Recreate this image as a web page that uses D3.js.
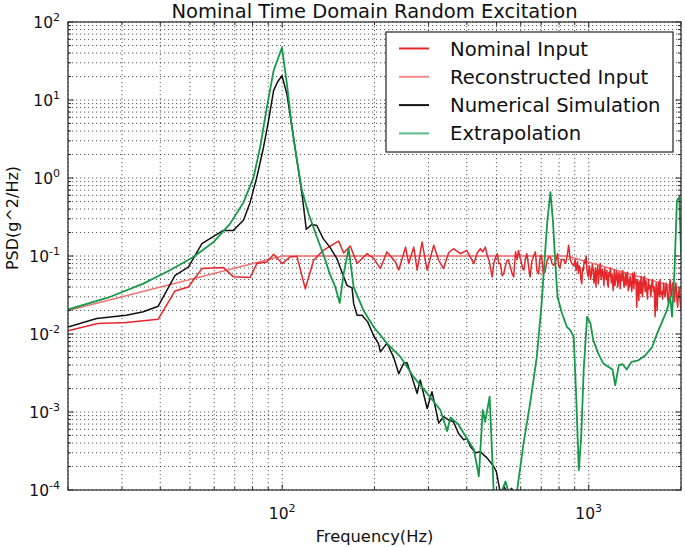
<!DOCTYPE html>
<html><head><meta charset="utf-8">
<script src="https://cdn.jsdelivr.net/npm/d3@7"></script>
<style>body{margin:0;background:#fff} text{font-family:"DejaVu Sans",sans-serif;fill:#111}</style>
</head><body><svg id="c" width="685" height="547"></svg>
<script>
const titleText = "Nominal Time Domain Random Excitation";
const xLabelText = "Frequency(Hz)";
const yLabelText = "PSD(g^2/Hz)";
const seriesNames = ["Nominal Input", "Reconstructed Input", "Numerical Simulation", "Extrapolation"];
const xMajorExp = [2, 3];
const yMajorExp = [-4, -3, -2, -1, 0, 1, 2];

// [frequency Hz, PSD g^2/Hz]
const nominalInput = [
[20,0.011],[25,0.0136],[31,0.014],[39.4,0.0155],[44.7,0.0356],[49.4,0.040],[54.7,0.069],[64.3,0.071],
[69.3,0.054],[78.6,0.053],[82.6,0.080],[89.1,0.084],[93.7,0.105],[100,0.080],[106,0.097],[111.7,0.099],
[118.9,0.038],[126.6,0.088],[136,0.118],[152.8,0.155],[158.6,0.109],[166.7,0.134],[175.5,0.080],[189,0.107],
[198.8,0.093],[209,0.069],[219.6,0.113],[234,0.084],[240,0.066],[252.5,0.130],[258.6,0.080],[268.6,0.130],
[275.5,0.066],[286,0.151],[297,0.066],[312,0.137],[324,0.088],[336,0.069],[349,0.11],[362,0.124],
[381,0.107],[400,0.118],[411,0.097],[422,0.080],[433,0.11],[443,0.124],[451,0.113],[460,0.13],
[467,0.10],[473,0.088],[484,0.054],[490,0.08],[497,0.097],[503,0.107],[509,0.08],[515,0.080],
[522,0.056],[528,0.059],[535,0.075],[542,0.088],[548,0.088],[556,0.07],[563,0.059],[569,0.054],
[577,0.113],[584,0.09],[590,0.118],[597,0.095],[603,0.083],[608,0.07],[614,0.066],[621,0.09],
[628,0.107],[635,0.08],[640,0.062],[644,0.054],[652,0.085],[660,0.098],[670,0.113],[677,0.066],
[686,0.059],[694,0.1],[702,0.10],[711,0.059],[720,0.062],[730,0.085],[739,0.097],[750,0.097],
[759,0.08],[768,0.076],[780,0.085],[791,0.107],[797,0.076],[805,0.07],[815,0.09],[828,0.09],
[840,0.08],[850,0.1],[860,0.137],[870,0.09],[881,0.080],[893,0.075],
[903,0.09],[909,0.065],[914,0.072],[920,0.085],[925,0.06],[931,0.075],[937,0.07],[943,0.05],
[949,0.044],[955,0.07],[960,0.065],[966,0.085],[973,0.08],[981,0.10],[986,0.07],[990,0.06],
[997,0.054],[1003,0.075],[1008,0.07],[1014,0.05],[1020,0.058],[1027,0.078],[1035,0.066],[1040,0.045],
[1045,0.05],[1051,0.07],[1056,0.040],[1061,0.065],[1066,0.06],[1070,0.075],[1074,0.044],[1082,0.06],
[1090,0.080],[1095,0.055],[1100,0.05],[1107,0.068],[1115,0.059],[1121,0.042],[1128,0.07],[1134,0.058],
[1140,0.05],[1147,0.065],[1152,0.045],[1158,0.040],[1164,0.062],[1170,0.055],[1177,0.07],[1185,0.045],
[1192,0.058],[1202,0.036],[1207,0.05],[1212,0.066],[1218,0.042],[1225,0.05],[1231,0.064],[1237,0.06],
[1243,0.04],[1248,0.045],[1254,0.062],[1260,0.055],[1267,0.038],[1275,0.06],[1283,0.048],[1290,0.065],
[1296,0.058],[1303,0.04],[1310,0.045],[1318,0.06],[1324,0.042],[1330,0.05],[1338,0.062],[1346,0.036],
[1352,0.05],[1358,0.04],[1365,0.055],[1373,0.045],[1382,0.035],[1390,0.06],[1398,0.054],[1404,0.038],
[1410,0.062],[1418,0.045],[1426,0.05],[1434,0.022],[1440,0.04],[1445,0.05],[1451,0.035],[1457,0.027],
[1463,0.045],[1470,0.048],[1477,0.033],[1483,0.055],[1489,0.05],[1497,0.03],[1505,0.04],[1512,0.052],
[1520,0.055],[1528,0.035],[1537,0.048],[1546,0.036],[1555,0.028],[1565,0.05],[1575,0.038],[1585,0.042],
[1595,0.03],[1605,0.044],[1615,0.05],[1625,0.035],[1635,0.04],[1641,0.025],[1647,0.0167],[1654,0.035],
[1660,0.045],[1666,0.03],[1672,0.020],[1680,0.038],[1690,0.046],[1700,0.03],[1709,0.05],[1720,0.032],
[1730,0.035],[1742,0.028],[1755,0.045],[1765,0.033],[1775,0.030],[1788,0.045],[1800,0.04],[1810,0.028],
[1820,0.025],[1832,0.04],[1843,0.05],[1855,0.03],[1865,0.032],[1877,0.045],[1889,0.04],[1897,0.03],
[1905,0.026],[1915,0.04],[1925,0.045],[1937,0.03],[1950,0.022],[1962,0.035],[1975,0.038],[1988,0.025],
[2000,0.02]
];
const reconstructedInput = [[20,0.02],[100,0.1],[850,0.1],[2000,0.038]];
const numericalSimulation = [
[20,0.0123],[24.8,0.0158],[31,0.0174],[35.2,0.0193],[39.4,0.0227],[44.7,0.0566],[49.4,0.072],[54.7,0.144],
[59.7,0.179],[64.3,0.213],[69.3,0.213],[74.8,0.29],[78.6,0.49],[82.6,1.02],[86.9,2.48],[90.2,5.4],
[93.7,13.2],[96.5,17],[99.8,20.5],[103.6,11.9],[107.6,4.47],[111.7,1.67],[116,0.628],[119.8,0.22],
[125,0.254],[129.7,0.246],[136,0.167],[143,0.13],[150.9,0.092],[156.6,0.062],[162.7,0.042],[169,0.039],
[171,0.0245],[175.5,0.0174],[182,0.0174],[190,0.0143],[198.8,0.0095],[206,0.0076],[209,0.0059],[219.6,0.0076],
[230.7,0.0051],[240,0.0031],[249,0.0042],[255,0.0043],[265,0.0028],[275.5,0.00173],[282,0.00257],[297,0.00111],
[308,0.00182],[324,0.00072],[336,0.00087],[349,0.00079],[362,0.00075],[376,0.00053],[391,0.00044],[400,0.00046],
[411,0.00036],[427,0.0003],[443,0.00031],[455,0.00028],[465,0.00026],[490,0.0002],[500,0.00017],[515,0.00009],
[530,0.00011],[545,0.00009],[560,0.000105],[575,0.00009],[590,0.0001],[610,0.00008],[640,0.00005]
];
const extrapolation = [
[20,0.0206],[27.5,0.030],[35.2,0.0442],[43,0.0656],[51.3,0.097],[59.7,0.151],[67.6,0.26],[74.8,0.49],
[80.6,1.02],[84.7,2.48],[89.1,8.05],[93.7,23.7],[99.8,47],[103.6,16],[107.6,4.47],[111.7,1.67],
[116,0.69],[121.9,0.348],[129.7,0.175],[136,0.107],[143,0.059],[149,0.040],[154,0.025],[158.6,0.059],
[164.7,0.124],[167.7,0.072],[171,0.040],[184,0.0202],[198.8,0.0123],[219.6,0.0076],[243,0.0051],[268.6,0.0028],
[297,0.00173],[328,0.00106],[345,0.00057],[354,0.00085],[375,0.0007],[400,0.00046],[422,0.00033],[438,0.00015],
[451,0.00106],[459,0.00075],[475,0.00157],[490,0.00009],[510,0.00008],[535,0.000128],[550,0.00009],[584,0.0001],
[613,0.0004],[644,0.0013],[677,0.0051],[702,0.0245],[720,0.107],[733,0.286],[750,0.66],[764,0.286],
[778,0.080],[791,0.030],[818,0.0183],[849,0.0123],[871,0.0112],[893,0.0092],[912,0.0013],[928,0.00018],
[945,0.00048],[963,0.0035],[988,0.0167],[1013,0.0137],[1035,0.0083],[1075,0.0056],[1115,0.0042],[1158,0.0038],
[1196,0.0035],[1220,0.0022],[1254,0.004],[1290,0.0041],[1330,0.0035],[1380,0.0044],[1450,0.0046],[1527,0.0053],
[1610,0.0068],[1672,0.0102],[1735,0.0143],[1800,0.0202],[1844,0.030],[1870,0.0167],[1905,0.066],[1940,0.515],
[1975,0.57],[2000,0.107]
];

const seriesData = [nominalInput, reconstructedInput, numericalSimulation, extrapolation];
const lineColors = ["#e5262b", "#ef6f6f", "#111111", "#17994a"];
const legendColors = ["#e5262b", "#f28b8b", "#111111", "#5db985"];
const drawOrder = [1, 0, 2, 3];

const W = 685, H = 547;
const m = {l: 68, r: 4, t: 22, b: 57};
const svg = d3.select("#c");
const x = d3.scaleLog().domain([20, 2000]).range([m.l, W - m.r]);
const y = d3.scaleLog().domain([1e-4, 1e2]).range([H - m.b, m.t]);
const x0 = m.l, x1 = W - m.r, y0 = m.t, y1 = H - m.b;

const xMinor = [], yMinor = [];
for (let e = 1; e <= 3; e++) for (let k = 2; k <= 9; k++) { const v = k * Math.pow(10, e); if (v >= 20 && v <= 2000) xMinor.push(v); }
for (let e = -4; e < 2; e++) for (let k = 2; k <= 9; k++) yMinor.push(k * Math.pow(10, e));
const xMajor = xMajorExp.map(e => Math.pow(10, e));
const yMajor = yMajorExp.map(e => Math.pow(10, e));

// grid
const grid = svg.append("g").attr("stroke", "#000").attr("stroke-width", 0.9).attr("stroke-dasharray", "1.2,2.8").attr("stroke-opacity", 0.72);
xMinor.concat(xMajor).forEach(v => grid.append("line").attr("x1", x(v)).attr("x2", x(v)).attr("y1", y0).attr("y2", y1));
yMinor.concat(yMajor).forEach(v => grid.append("line").attr("y1", y(v)).attr("y2", y(v)).attr("x1", x0).attr("x2", x1));

// lines
svg.append("clipPath").attr("id", "clip").append("rect").attr("x", x0).attr("y", y0).attr("width", x1 - x0).attr("height", y1 - y0);
const line = d3.line().x(d => x(d[0])).y(d => y(d[1]));
const lg = svg.append("g").attr("clip-path", "url(#clip)");
drawOrder.forEach(i => {
  lg.append("path").attr("d", line(seriesData[i])).attr("fill", "none").attr("stroke", lineColors[i])
    .attr("stroke-width", i === 3 ? 1.8 : 1.5).attr("stroke-linejoin", "round");
});

// ticks on all sides
const tk = svg.append("g").attr("stroke", "#222").attr("stroke-width", 1);
xMajor.forEach(v => { tk.append("line").attr("x1", x(v)).attr("x2", x(v)).attr("y1", y1).attr("y2", y1 - 5.5); tk.append("line").attr("x1", x(v)).attr("x2", x(v)).attr("y1", y0).attr("y2", y0 + 5.5); });
xMinor.forEach(v => { tk.append("line").attr("x1", x(v)).attr("x2", x(v)).attr("y1", y1).attr("y2", y1 - 3); tk.append("line").attr("x1", x(v)).attr("x2", x(v)).attr("y1", y0).attr("y2", y0 + 3); });
yMajor.forEach(v => { tk.append("line").attr("y1", y(v)).attr("y2", y(v)).attr("x1", x0).attr("x2", x0 + 5.5); tk.append("line").attr("y1", y(v)).attr("y2", y(v)).attr("x1", x1).attr("x2", x1 - 5.5); });
yMinor.forEach(v => { tk.append("line").attr("y1", y(v)).attr("y2", y(v)).attr("x1", x0).attr("x2", x0 + 3); tk.append("line").attr("y1", y(v)).attr("y2", y(v)).attr("x1", x1).attr("x2", x1 - 3); });

// frame
svg.append("rect").attr("x", x0).attr("y", y0).attr("width", x1 - x0).attr("height", y1 - y0)
  .attr("fill", "none").attr("stroke", "#333").attr("stroke-width", 1.3);

// tick labels
xMajorExp.forEach(e => {
  const t = svg.append("text").attr("x", x(Math.pow(10, e))).attr("y", 519).attr("text-anchor", "middle").attr("font-size", 15.5);
  t.append("tspan").text("10");
  t.append("tspan").attr("dy", -7).attr("font-size", 11).text(String(e));
});
yMajorExp.forEach(e => {
  const t = svg.append("text").attr("x", 60).attr("y", y(Math.pow(10, e)) + 6).attr("text-anchor", "end").attr("font-size", 15.5);
  t.append("tspan").text("10");
  t.append("tspan").attr("dy", -7).attr("font-size", 11).text(e < 0 ? "-" + (-e) : String(e));
});

// titles
svg.append("text").attr("x", (x0 + x1) / 2).attr("y", 18).attr("text-anchor", "middle").attr("font-size", 19.5).text(titleText);
svg.append("text").attr("x", (x0 + x1) / 2).attr("y", 542).attr("text-anchor", "middle").attr("font-size", 16.3).text(xLabelText);
svg.append("text").attr("transform", "translate(18,218) rotate(-90)").attr("text-anchor", "middle").attr("font-size", 16).text(yLabelText);

// legend
const leg = svg.append("g");
leg.append("rect").attr("x", 386).attr("y", 32).attr("width", 287).attr("height", 120).attr("fill", "#fff").attr("stroke", "#222").attr("stroke-width", 1.2);
seriesNames.forEach((n, i) => {
  const yy = 48.5 + i * 28.3;
  leg.append("line").attr("x1", 399).attr("x2", 429).attr("y1", yy).attr("y2", yy).attr("stroke", legendColors[i]).attr("stroke-width", 2);
  leg.append("text").attr("x", 450).attr("y", yy + 7).attr("font-size", 19.6).text(n);
});
</script></body></html>
